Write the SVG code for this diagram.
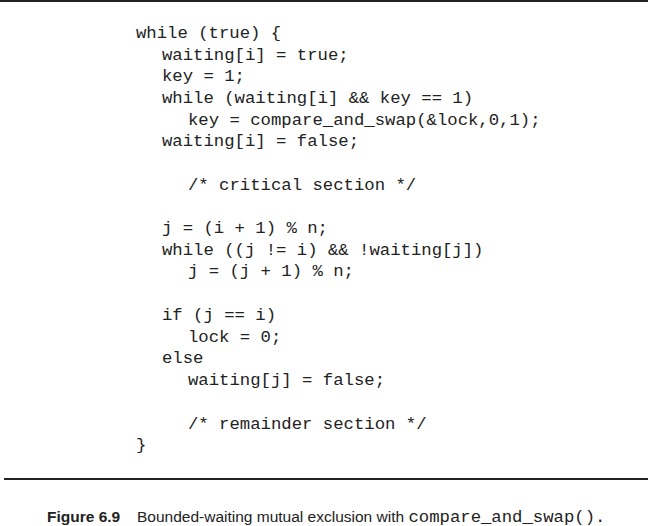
<svg xmlns="http://www.w3.org/2000/svg" width="648" height="526" viewBox="0 0 648 526">
<style>
.c{font-family:"Liberation Mono","DejaVu Sans Mono",monospace;font-size:17.3px;fill:#222}
.s{font-family:"Liberation Sans",Arial,sans-serif;font-size:15.5px;fill:#222}
</style>
<rect width="648" height="526" fill="#fff"/>
<line x1="0" y1="1" x2="648" y2="1" stroke="#222" stroke-width="2"/>
<line x1="4" y1="479" x2="648" y2="479" stroke="#222" stroke-width="2"/>
<g id="code" class="c" xml:space="preserve">
<text x="136" y="38">while (true) {</text>
<text x="162" y="60">waiting[i] = true;</text>
<text x="162" y="81">key = 1;</text>
<text x="162" y="103">while (waiting[i] &amp;&amp; key == 1)</text>
<text x="188" y="125">key = compare_and_swap(&amp;lock,0,1);</text>
<text x="162" y="146">waiting[i] = false;</text>
<text x="188" y="190">/* critical section */</text>
<text x="162" y="233">j = (i + 1) % n;</text>
<text x="162" y="255">while ((j != i) &amp;&amp; !waiting[j])</text>
<text x="188" y="276">j = (j + 1) % n;</text>
<text x="162" y="320">if (j == i)</text>
<text x="188" y="342">lock = 0;</text>
<text x="162" y="363">else</text>
<text x="188" y="385">waiting[j] = false;</text>
<text x="188" y="429">/* remainder section */</text>
<text x="136" y="450">}</text>
</g>
<g id="caption">
<text x="47" y="522" class="s"><tspan font-weight="bold">Figure 6.9</tspan><tspan x="137">Bounded-waiting mutual exclusion with </tspan><tspan class="c" font-size="17px">compare_and_swap().</tspan></text>
</g>
</svg>
